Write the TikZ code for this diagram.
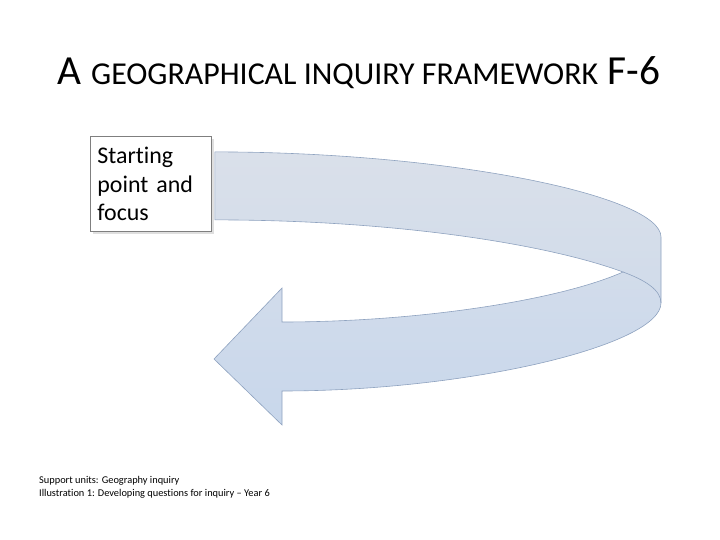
\documentclass[tikz,border=0pt]{standalone}
\usepackage{fontspec}
\setmainfont{Carlito}[Ligatures=NoCommon]
\usepackage{tikz}
\usetikzlibrary{positioning, calc}
\definecolor{bandline}{HTML}{8EA2BF}
\definecolor{bandtop}{HTML}{DAE0EA}
\definecolor{bandbottom}{HTML}{C8D7EB}
\definecolor{boxline}{HTML}{7F7F7F}
\tikzset{startbox/.style={draw=boxline, fill=white, line width=.8pt, minimum width=121bp, minimum height=95bp, inner sep=7bp, align=left, text width=107bp, font=\fontsize{24}{29}\selectfont},
  band/.style={draw=bandline, line width=.6pt, top color=bandtop, bottom color=bandbottom},
  footnote/.style={anchor=base west, inner sep=0pt, font=\fontsize{10.4}{12}\selectfont}}

\begin{document}
\begin{tikzpicture}[x=1bp, y=-1bp]
                 \useasboundingbox (0,0) rectangle (720,540);

                 \node[anchor=base, inner sep=0pt] (title) at (359,85) {\fontsize{41.5}{48}\selectfont A {\fontsize{32}{38}\selectfont GEOGRAPHICAL INQUIRY FRAMEWORK} F-6};

                 \fill[gray!25] (93,139) rectangle (214,234);
                 \node[startbox, anchor=north west] (start) at (90,136) {Starting\\point and\\focus};

                 \coordinate (ut) at ($(start.east)+(3,-32)$);
                 \coordinate (ub) at ($(start.east)+(3,36)$);
                 \coordinate (ro) at (661,237);
                 \coordinate (ri) at (661,303);
                 \coordinate (fold) at (623,272);
                 \coordinate (st) at (282,322);
                 \coordinate (sb) at (282,391);
                 \coordinate (hb) at (282,425);
                 \coordinate (ht) at (282,288);
                 \coordinate (tip) at (214,359);

                 \draw[band] (ut) .. controls (450,152) and (661,196) .. (ro)
                     -- (ri) .. controls (661,345) and (470,391) .. (sb)
                     -- (hb) -- (tip) -- (ht) -- (st)
                     .. controls (420,322) and (560,300) .. (fold)
                     .. controls (550,245) and (400,220) .. (ub) -- cycle;
                 \draw[bandline, line width=.6pt] (fold) .. controls (645,280) and (661,290) .. (ri);

                 \node[footnote] (units) at (39,483) {Support units: Geography inquiry};
                 \node[footnote] (illus) at (39,496) {Illustration 1: Developing questions for inquiry -- Year 6};
             \end{tikzpicture}
\end{document}
